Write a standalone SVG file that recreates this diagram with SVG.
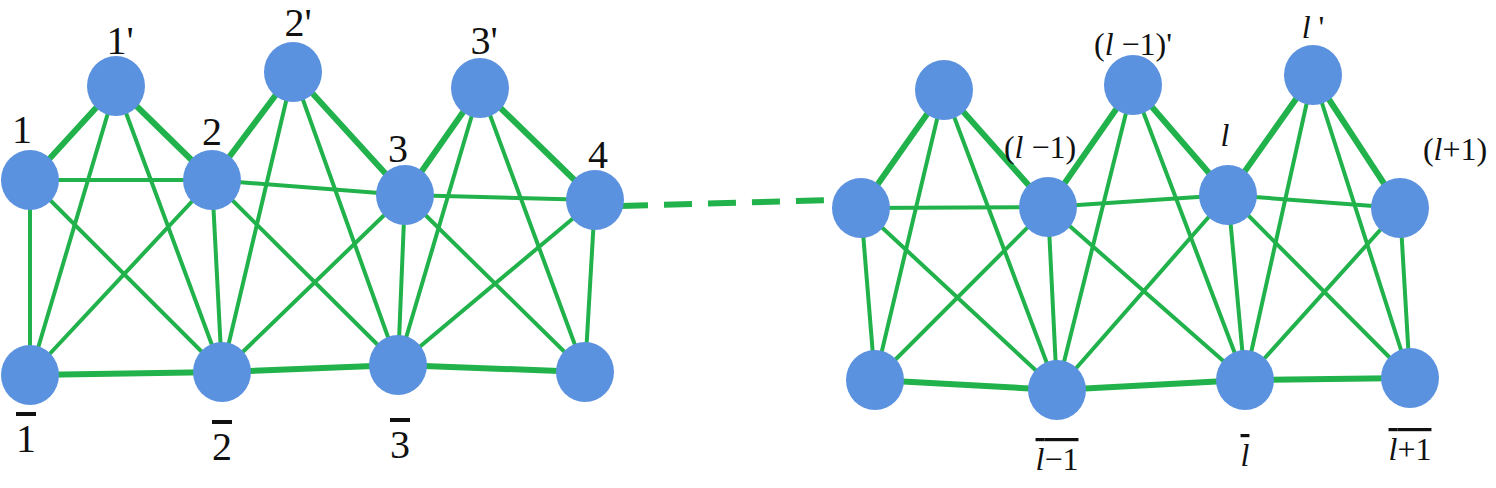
<svg xmlns="http://www.w3.org/2000/svg" width="1496" height="488" viewBox="0 0 1496 488">
<style>
.e{stroke:#21b24b;stroke-width:4;fill:none}
.t{stroke-width:6}
.n{fill:#5b92df}
</style>
<rect width="1496" height="488" fill="#fff"/>
<g id="connectors">
<g class="e">
<path d="M30 180L212 180L405 195L595 200"/>
<path d="M30 180L30 375M212 180L222 372M405 195L398 365M595 200L585 372"/>
<path d="M30 180L222 372M212 180L30 375M212 180L398 365M405 195L222 372M405 195L585 372M595 200L398 365"/>
<path d="M116 86L30 375M116 86L222 372M293 72L222 372M293 72L398 365M480 88L398 365M480 88L585 372"/>
<path d="M861 208L1048 207L1228 195L1400 208"/>
<path d="M861 208L875 380M1048 207L1057 390M1228 195L1245 380M1400 208L1410 378"/>
<path d="M861 208L1057 390M1048 207L875 380M1048 207L1245 380M1228 195L1057 390M1228 195L1410 378M1400 208L1245 380"/>
<path d="M944 90L875 380M944 90L1057 390M1133 85L1057 390M1133 85L1245 380M1313 75L1245 380M1313 75L1410 378"/>
</g>
<g class="e t">
<path d="M116 86L30 180M116 86L212 180M293 72L212 180M293 72L405 195M480 88L405 195M480 88L595 200"/>
<path d="M30 375L222 372L398 365L585 372"/>
<path d="M944 90L861 208M944 90L1048 207M1133 85L1048 207M1133 85L1228 195M1313 75L1228 195M1313 75L1400 208"/>
<path d="M875 380L1057 390L1245 380L1410 378"/>
<path d="M620 206L835 200" stroke-dasharray="28 16"/>
</g>
</g>
<g font-family="Liberation Serif, serif" font-size="40" fill="#111" text-anchor="middle">
<g id="n1p"><ellipse class="n" cx="116" cy="86" rx="29" ry="30"/><text x="120" y="54">1'</text></g>
<g id="n2p"><ellipse class="n" cx="293" cy="72" rx="29" ry="30"/><text x="298" y="36">2'</text></g>
<g id="n3p"><ellipse class="n" cx="480" cy="88" rx="29" ry="30"/><text x="484" y="54">3'</text></g>
<g id="n1"><ellipse class="n" cx="30" cy="180" rx="29" ry="30"/><text x="22" y="143">1</text></g>
<g id="n2"><ellipse class="n" cx="212" cy="180" rx="29" ry="30"/><text x="212" y="145">2</text></g>
<g id="n3"><ellipse class="n" cx="405" cy="195" rx="29" ry="30"/><text x="398" y="162">3</text></g>
<g id="n4"><ellipse class="n" cx="595" cy="200" rx="29" ry="30"/><text x="598" y="168">4</text></g>
<g id="b1"><ellipse class="n" cx="30" cy="375" rx="29" ry="30"/><text x="26" y="452" text-decoration="overline">1</text></g>
<g id="b2"><ellipse class="n" cx="222" cy="372" rx="29" ry="30"/><text x="222" y="460" text-decoration="overline">2</text></g>
<g id="b3"><ellipse class="n" cx="398" cy="365" rx="29" ry="30"/><text x="400" y="458" text-decoration="overline">3</text></g>
<g id="b4"><ellipse class="n" cx="585" cy="372" rx="29" ry="30"/></g>
<g font-size="32">
<g id="r0p"><ellipse class="n" cx="944" cy="90" rx="29" ry="30"/></g>
<g id="rlm1p"><ellipse class="n" cx="1133" cy="85" rx="29" ry="30"/><text x="1133" y="55">(<tspan font-style="italic">l</tspan> −1)'</text></g>
<g id="rlp"><ellipse class="n" cx="1313" cy="75" rx="29" ry="30"/><text x="1313" y="38"><tspan font-style="italic">l</tspan> '</text></g>
<g id="r0"><ellipse class="n" cx="861" cy="208" rx="29" ry="30"/></g>
<g id="rlm1"><ellipse class="n" cx="1048" cy="207" rx="29" ry="30"/><text x="1040" y="158">(<tspan font-style="italic">l</tspan> −1)</text></g>
<g id="rl"><ellipse class="n" cx="1228" cy="195" rx="29" ry="30"/><text x="1225" y="146" font-style="italic">l</text></g>
<g id="rlp1"><ellipse class="n" cx="1400" cy="208" rx="29" ry="30"/><text x="1455" y="160">(<tspan font-style="italic">l</tspan>+1)</text></g>
<g id="rb0"><ellipse class="n" cx="875" cy="380" rx="29" ry="30"/></g>
<g id="rblm1"><ellipse class="n" cx="1057" cy="390" rx="29" ry="30"/><text x="1057" y="470" text-decoration="overline"><tspan font-style="italic">l</tspan>−1</text></g>
<g id="rbl"><ellipse class="n" cx="1245" cy="380" rx="29" ry="30"/><text x="1245" y="466" font-style="italic" text-decoration="overline">l</text></g>
<g id="rblp1"><ellipse class="n" cx="1410" cy="378" rx="29" ry="30"/><text x="1410" y="460" text-decoration="overline"><tspan font-style="italic">l</tspan>+1</text></g>
</g>
</g>
</svg>
